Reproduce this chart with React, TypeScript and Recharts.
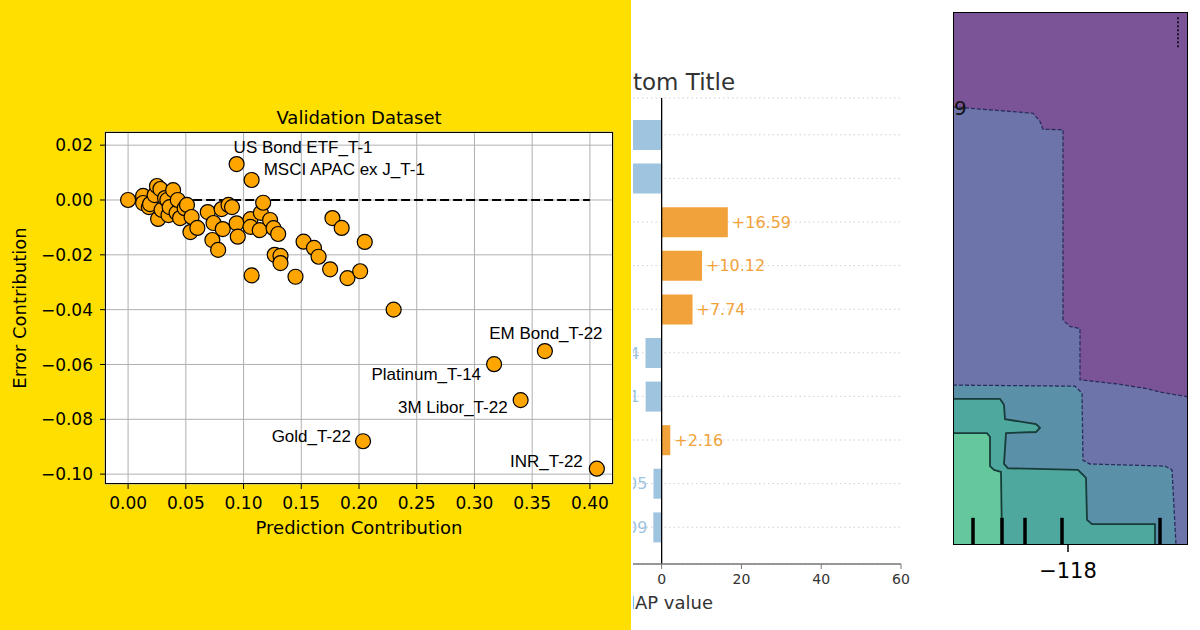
import React from 'react';
import {
  ScatterChart,
  Scatter,
  BarChart,
  Bar,
  Cell,
  LabelList,
  ComposedChart,
  Area,
  XAxis,
  YAxis,
  CartesianGrid,
  ReferenceLine,
  Label,
} from 'recharts';

// ---------- left panel: validation scatter ----------
const predictionContribution = [
  0.0, 0.013, 0.013, 0.018, 0.019, 0.023, 0.025, 0.028, 0.026, 0.029,
  0.032, 0.034, 0.035, 0.036, 0.039, 0.042, 0.043, 0.045, 0.049, 0.051,
  0.054, 0.055, 0.06, 0.069, 0.073, 0.074, 0.078, 0.081, 0.082, 0.087,
  0.09, 0.094, 0.095, 0.106, 0.106, 0.107, 0.114, 0.115, 0.117, 0.123,
  0.126, 0.127, 0.13, 0.132, 0.132, 0.145, 0.152, 0.161, 0.165, 0.175,
  0.177, 0.185, 0.19, 0.201, 0.205, 0.23,
];
const errorContribution = [
  0.0, 0.0015, -0.0011, -0.0026, -0.0015, 0.0018, 0.0051, 0.004, -0.0069, -0.0036,
  0.0007, 0.0, -0.0055, -0.0026, 0.0036, -0.0047, 0.0, -0.0066, -0.003, -0.0018,
  -0.0117, -0.0062, -0.0102, -0.0044, -0.0146, -0.0084, -0.0182, -0.0033, -0.0106, -0.0018,
  -0.0026, -0.0085, -0.0134, -0.007, -0.0098, -0.0275, -0.011, -0.0047, -0.001, -0.0073,
  -0.0103, -0.02, -0.0124, -0.0204, -0.023, -0.028, -0.0152, -0.0175, -0.0207, -0.0253,
  -0.0066, -0.0102, -0.0285, -0.026, -0.0153, -0.04,
];

const labeledNames = [
  'US Bond ETF_T-1',
  'MSCI APAC ex J_T-1',
  'EM Bond_T-22',
  'Platinum_T-14',
  '3M Libor_T-22',
  'Gold_T-22',
  'INR_T-22',
];
const labeledPrediction = [0.094, 0.107, 0.361, 0.317, 0.34, 0.2035, 0.406];
const labeledError = [0.0131, 0.0073, -0.0551, -0.0599, -0.073, -0.088, -0.098];

const predTicks = [0, 0.05, 0.1, 0.15, 0.2, 0.25, 0.3, 0.35, 0.4];
const errTicks = [0.02, 0, -0.02, -0.04, -0.06, -0.08, -0.1];

// ---------- middle panel: shap bars ----------
const shapFeatures = ['f0', 'f1', 'f2', 'f3', 'f4', 'f5', 'f6', 'f7', 'f8', 'f9'];
const shapValues = [-27.41, -19.86, 16.59, 10.12, 7.74, -4.04, -4.01, 2.16, -2.05, -2.09];
const shapTicks = [0, 20, 40, 60];

// ---------- right panel: partial dependence contour ----------
const pdTicks = [-118];
const topEdgeX = [-119.15, -116.8];
const topEdgeY = [100, 100];
const level1X = [
  -119.15, -118.35, -118.28, -118.25, -118.05, -118.05, -117.98, -117.88, -117.88, -117.5,
  -117.2, -117.08, -116.8,
];
const level1Y = [82.2, 81.0, 79.5, 78.0, 77.9, 42.2, 41.0, 40.6, 31.0, 30.2, 29.3, 28.7, 27.8];
const level2X = [-119.15, -117.93, -117.86, -117.85, -117.78, -117.03, -116.96, -116.92, -116.8];
const level2Y = [30.0, 29.8, 28.5, 15.9, 15.2, 14.8, 14.1, 0, 0];
const level3X = [
  -119.15, -118.68, -118.64, -118.63, -118.32, -118.28, -118.32, -118.62, -118.64, -118.6,
  -117.9, -117.82, -117.81, -117.76, -117.13, -117.13,
];
const level3Y = [27.4, 27.4, 26.3, 23.6, 22.7, 22.0, 21.2, 21.0, 15.2, 14.4, 14.1, 12.6, 4.7, 3.9, 3.9, 0];
const level4X = [-119.15, -118.81, -118.78, -118.78, -118.74, -118.67, -118.66];
const level4Y = [21.0, 21.0, 20.3, 14.8, 14.1, 13.7, 0];
const rugX = [-118.95, -118.66, -118.43, -118.06, -117.08];
const rugTop = 5.1;

const toPoints = (xs: number[], ys: number[]) => xs.map((x, i) => ({ x, y: ys[i] }));

const scatterData = toPoints(predictionContribution, errorContribution);
const labeledData = labeledNames.map((name, i) => ({
  name,
  x: labeledPrediction[i],
  y: labeledError[i],
}));
const shapData = shapFeatures.map((feature, i) => ({ feature, value: shapValues[i] }));

const YELLOW = '#FFDF00';
const DOT = '#FFA500';
const SHAP_POS = '#F2A23A';
const SHAP_NEG = '#9EC4DF';
const MPL_FONT = 'DejaVu Sans, sans-serif';

const labelPlacement: Record<string, { dx: number; dy: number; anchor: 'start' | 'middle' | 'end' }> = {
  'US Bond ETF_T-1': { dx: -3, dy: -17, anchor: 'start' },
  'MSCI APAC ex J_T-1': { dx: 12, dy: -10, anchor: 'start' },
  'EM Bond_T-22': { dx: 1, dy: -18, anchor: 'middle' },
  'Platinum_T-14': { dx: -13, dy: 10, anchor: 'end' },
  '3M Libor_T-22': { dx: -13, dy: 7, anchor: 'end' },
  'Gold_T-22': { dx: -12, dy: -5, anchor: 'end' },
  'INR_T-22': { dx: -14, dy: -7, anchor: 'end' },
};

const fmt2 = (v: number) => v.toFixed(2).replace('-', '\u2212');

const Dot = (props: any) => (
  <circle cx={props.cx} cy={props.cy} r={7.5} fill={DOT} stroke="#000" strokeWidth={1.2} />
);

const LabeledDot = (props: any) => {
  const { cx, cy, payload } = props;
  const p = labelPlacement[payload.name];
  return (
    <g>
      <circle cx={cx} cy={cy} r={7.5} fill={DOT} stroke="#000" strokeWidth={1.2} />
      <text
        x={cx + p.dx}
        y={cy + p.dy}
        textAnchor={p.anchor}
        dominantBaseline="central"
        fontFamily="Liberation Sans, Arial, sans-serif"
        fontSize={17}
        fill="#000"
      >
        {payload.name}
      </text>
    </g>
  );
};

const ShapValueLabel = (props: any) => {
  const { x, y, width, height, value } = props;
  const left = Math.min(x, x + width);
  const right = Math.max(x, x + width);
  const pos = value >= 0;
  const txt = (pos ? '+' : '\u2212') + Math.abs(value).toFixed(2);
  return (
    <text
      x={pos ? right + 4 : left - 6}
      y={y + height / 2}
      textAnchor={pos ? 'start' : 'end'}
      dominantBaseline="central"
      fontFamily={MPL_FONT}
      fontSize={16}
      fill={pos ? SHAP_POS : SHAP_NEG}
    >
      {txt}
    </text>
  );
};

const mplTick = { fill: '#000', fontSize: 17, fontFamily: MPL_FONT };

const ValidationPanel = () => (
  <div style={{ position: 'absolute', left: 0, top: 0, width: 631, height: 630, background: YELLOW }}>
    <ScatterChart width={630} height={630} margin={{ top: 132, right: 17, bottom: 86, left: 0 }}>
      <CartesianGrid stroke="#b0b0b0" fill="#fff" />
      <XAxis
        type="number"
        dataKey="x"
        domain={[-0.02, 0.42]}
        ticks={predTicks}
        allowDataOverflow
        height={60}
        tickFormatter={fmt2}
        tick={mplTick}
        tickSize={5}
        tickMargin={8}
        tickLine={{ stroke: '#000' }}
        axisLine={false}
      >
        <Label
          value="Prediction Contribution"
          position="insideBottom"
          offset={10}
          style={{ fontSize: 18, fontFamily: MPL_FONT, fill: '#000' }}
        />
      </XAxis>
      <YAxis
        type="number"
        dataKey="y"
        domain={[-0.1036, 0.0248]}
        ticks={errTicks}
        allowDataOverflow
        width={105}
        tickFormatter={fmt2}
        tick={mplTick}
        tickSize={5}
        tickMargin={7}
        tickLine={{ stroke: '#000' }}
        axisLine={false}
      >
        <Label
          value="Error Contribution"
          angle={-90}
          position="insideLeft"
          offset={20}
          style={{ fontSize: 18, fontFamily: MPL_FONT, fill: '#000', textAnchor: 'middle' }}
        />
      </YAxis>
      <Scatter data={scatterData} shape={Dot} isAnimationActive={false} />
      <Scatter data={labeledData} shape={LabeledDot} isAnimationActive={false} />
      <ReferenceLine
        segment={[
          { x: 0, y: 0 },
          { x: 0.4, y: 0 },
        ]}
        stroke="#000"
        strokeWidth={2}
        strokeDasharray="9 4"
      />
    </ScatterChart>
    <div
      style={{
        position: 'absolute',
        left: 105,
        top: 132,
        width: 508,
        height: 352,
        boxSizing: 'border-box',
        border: '1px solid #000',
        pointerEvents: 'none',
      }}
    />
    <svg width={630} height={630} style={{ position: 'absolute', left: 0, top: 0, pointerEvents: 'none' }}>
      <text x={359} y={117} textAnchor="middle" dominantBaseline="central" fontFamily={MPL_FONT} fontSize={18} fill="#000">
        Validation Dataset
      </text>
    </svg>
  </div>
);

// clip edge of the cropped shap figure
const SHAP_LEFT = 633;

const ShapPanel = () => (
  <div
    style={{
      position: 'absolute',
      left: SHAP_LEFT,
      top: 0,
      width: 940 - SHAP_LEFT,
      height: 630,
      overflow: 'hidden',
      background: '#fff',
    }}
  >
    <div style={{ position: 'absolute', left: 534 - SHAP_LEFT, top: 0 }}>
      <BarChart
        layout="vertical"
        width={377}
        height={630}
        data={shapData}
        barSize={30}
        margin={{ top: 98, right: 10, bottom: 36, left: 0 }}
      >
        <CartesianGrid vertical={false} stroke="#cfcfcf" strokeDasharray="1.5 3" />
        <XAxis
          type="number"
          domain={[-32, 60]}
          ticks={shapTicks}
          allowDataOverflow
          height={30}
          tick={{ fill: '#333', fontSize: 14, fontFamily: MPL_FONT }}
          tickSize={5}
          tickMargin={5}
          tickLine={{ stroke: '#777' }}
          axisLine={{ stroke: '#777', strokeWidth: 1.5 }}
        />
        <YAxis type="category" dataKey="feature" hide padding={{ top: 15, bottom: 15 }} />
        <ReferenceLine x={0} stroke="#000" strokeWidth={1.3} />
        <Bar dataKey="value" isAnimationActive={false}>
          {shapData.map((d) => (
            <Cell key={d.feature} fill={d.value >= 0 ? SHAP_POS : SHAP_NEG} />
          ))}
          <LabelList dataKey="value" content={ShapValueLabel} />
        </Bar>
      </BarChart>
    </div>
    <svg width={940 - SHAP_LEFT} height={630} style={{ position: 'absolute', left: 0, top: 0, pointerEvents: 'none' }}>
      <text x={590.4 - SHAP_LEFT} y={90} fontFamily={MPL_FONT} fontSize={23} fill="#333">
        Custom Title
      </text>
      <text x={610 - SHAP_LEFT} y={602} dominantBaseline="central" fontFamily={MPL_FONT} fontSize={18} fill="#333">
        SHAP value
      </text>
    </svg>
  </div>
);

const ContourPanel = () => (
  <div style={{ position: 'absolute', left: 940, top: 0, width: 260, height: 630, background: '#fff' }}>
    <ComposedChart width={260} height={630} margin={{ top: 12, right: 12, bottom: 45, left: 13 }}>
      <XAxis
        type="number"
        dataKey="x"
        domain={[-119.15, -116.8]}
        ticks={pdTicks}
        allowDataOverflow
        height={40}
        tickFormatter={(v: number) => String(v).replace('-', '\u2212')}
        tick={{ fill: '#000', fontSize: 21, fontFamily: MPL_FONT }}
        tickSize={7}
        tickMargin={11}
        tickLine={{ stroke: '#000', strokeWidth: 1.5 }}
        axisLine={false}
      />
      <YAxis type="number" dataKey="y" domain={[0, 100]} hide allowDataOverflow />
      <Area
        data={toPoints(topEdgeX, topEdgeY)}
        dataKey="y"
        type="linear"
        baseValue="dataMin"
        fill="#7A5496"
        fillOpacity={1}
        stroke="none"
        dot={false}
        activeDot={false}
        isAnimationActive={false}
      />
      <Area
        data={toPoints(level1X, level1Y)}
        dataKey="y"
        type="linear"
        baseValue="dataMin"
        fill="#6C74A9"
        fillOpacity={1}
        stroke="#2B2D5C"
        strokeWidth={1.3}
        strokeDasharray="4 2"
        dot={false}
        activeDot={false}
        isAnimationActive={false}
      />
      <Area
        data={toPoints(level2X, level2Y)}
        dataKey="y"
        type="linear"
        baseValue="dataMin"
        fill="#5B90A9"
        fillOpacity={1}
        stroke="#2B2D5C"
        strokeWidth={1.3}
        strokeDasharray="4 2"
        dot={false}
        activeDot={false}
        isAnimationActive={false}
      />
      <Area
        data={toPoints(level3X, level3Y)}
        dataKey="y"
        type="linear"
        baseValue="dataMin"
        fill="#4FA89D"
        fillOpacity={1}
        stroke="#173C3A"
        strokeWidth={1.8}
        dot={false}
        activeDot={false}
        isAnimationActive={false}
      />
      <Area
        data={toPoints(level4X, level4Y)}
        dataKey="y"
        type="linear"
        baseValue="dataMin"
        fill="#64C89C"
        fillOpacity={1}
        stroke="#173C3A"
        strokeWidth={1.8}
        dot={false}
        activeDot={false}
        isAnimationActive={false}
      />
      {rugX.map((x) => (
        <ReferenceLine
          key={x}
          segment={[
            { x, y: 0 },
            { x, y: rugTop },
          ]}
          stroke="#000"
          strokeWidth={3.5}
        />
      ))}
      <ReferenceLine
        segment={[
          { x: -116.9, y: 93.4 },
          { x: -116.9, y: 99.4 },
        ]}
        stroke="#000"
        strokeWidth={1.5}
        strokeDasharray="2 2"
      />
    </ComposedChart>
    <div
      style={{
        position: 'absolute',
        left: 13,
        top: 12,
        width: 235,
        height: 533,
        boxSizing: 'border-box',
        border: '1.5px solid #000',
        pointerEvents: 'none',
      }}
    />
    <svg width={260} height={630} style={{ position: 'absolute', left: 0, top: 0, pointerEvents: 'none' }}>
      <text x={14} y={108} dominantBaseline="central" fontFamily={MPL_FONT} fontSize={20} fill="#111">
        9
      </text>
    </svg>
  </div>
);

export default function App() {
  return (
    <div style={{ position: 'absolute', left: 0, top: 0, width: 1200, height: 630, background: '#fff', overflow: 'hidden' }}>
      <ValidationPanel />
      <ShapPanel />
      <ContourPanel />
    </div>
  );
}
